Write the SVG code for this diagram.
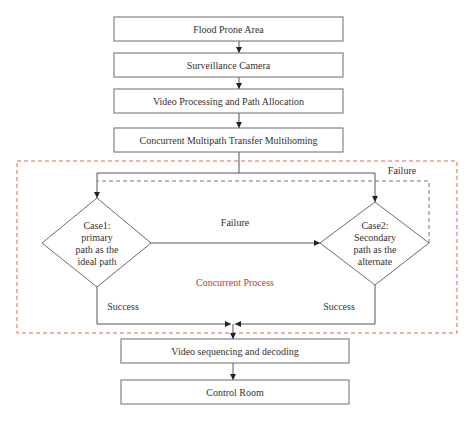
<svg xmlns="http://www.w3.org/2000/svg" width="474" height="421" viewBox="0 0 474 421">
<style>
.box{fill:#fff;stroke:#6b6b6b;stroke-width:1}
.t{font-family:"Liberation Serif","Times New Roman",serif;font-size:10px;fill:#333;text-anchor:middle}
.ln{fill:none;stroke:#555;stroke-width:1}
.dash{fill:none;stroke:#777;stroke-width:1;stroke-dasharray:4,3}
.red{fill:none;stroke:#e0674a;stroke-width:1;stroke-dasharray:4,3}
</style>
<defs>
<marker id="ah" viewBox="0 0 10 10" refX="10" refY="5" markerWidth="6" markerHeight="6" orient="auto-start-reverse" markerUnits="userSpaceOnUse">
<path d="M0,0 L10,5 L0,10 z" fill="#222"/>
</marker>
</defs>
<rect width="474" height="421" fill="#fff"/>
<rect id="concurrent-region" class="red" x="17" y="161" width="440" height="172"/>
<g id="connectors">
<line class="ln" x1="239" y1="41" x2="239" y2="53" marker-end="url(#ah)"/>
<line class="ln" x1="239" y1="77" x2="239" y2="89" marker-end="url(#ah)"/>
<line class="ln" x1="239" y1="113" x2="239" y2="128" marker-end="url(#ah)"/>
<polyline class="ln" points="239,152 239,173 97,173 97,198" marker-end="url(#ah)"/>
<polyline class="ln" points="239,173 375,173 375,202" marker-end="url(#ah)"/>
<polyline class="dash" points="429,243 429,181 97,181"/>
<line class="ln" x1="151" y1="243" x2="320" y2="243" marker-end="url(#ah)"/>
<polyline class="ln" points="97,287 97,324 231,324" marker-end="url(#ah)"/>
<polyline class="ln" points="375,285 375,324 235,324" marker-end="url(#ah)"/>
<line class="ln" x1="233" y1="324" x2="233" y2="339" marker-end="url(#ah)"/>
<line class="ln" x1="233" y1="363" x2="233" y2="380" marker-end="url(#ah)"/>
<text class="t" x="402" y="174">Failure</text>
<text class="t" x="235" y="226">Failure</text>
<text class="t" x="123" y="310">Success</text>
<text class="t" x="339" y="310">Success</text>
</g>
<g id="n1"><rect class="box" x="114" y="17" width="229" height="24"/><text class="t" x="228.5" y="32.5">Flood Prone Area</text></g>
<g id="n2"><rect class="box" x="114" y="53" width="229" height="24"/><text class="t" x="228.5" y="68.5">Surveillance Camera</text></g>
<g id="n3"><rect class="box" x="114" y="89" width="229" height="24"/><text class="t" x="228.5" y="104.5">Video Processing and Path Allocation</text></g>
<g id="n4"><rect class="box" x="114" y="128" width="229" height="24"/><text class="t" x="228.5" y="143.5">Concurrent Multipath Transfer Multihoming</text></g>
<g id="case1"><polygon class="box" points="97,198 151,243 97,287 42,243"/>
<text class="t" x="97" y="229">Case1:</text><text class="t" x="97" y="241">primary</text><text class="t" x="97" y="253">path as the</text><text class="t" x="97" y="265">ideal path</text></g>
<g id="case2"><polygon class="box" points="375,202 429,243 375,285 320,243"/>
<text class="t" x="375" y="229">Case2:</text><text class="t" x="375" y="241">Secondary</text><text class="t" x="375" y="253">path as the</text><text class="t" x="375" y="265">alternate</text></g>
<text class="t" x="235" y="286" style="fill:#c0392b">Concurrent Process</text>
<g id="n5"><rect class="box" x="121" y="339" width="228" height="24"/><text class="t" x="235" y="354.5">Video sequencing and decoding</text></g>
<g id="n6"><rect class="box" x="121" y="380" width="228" height="24"/><text class="t" x="235" y="395.5">Control Room</text></g>
</svg>
